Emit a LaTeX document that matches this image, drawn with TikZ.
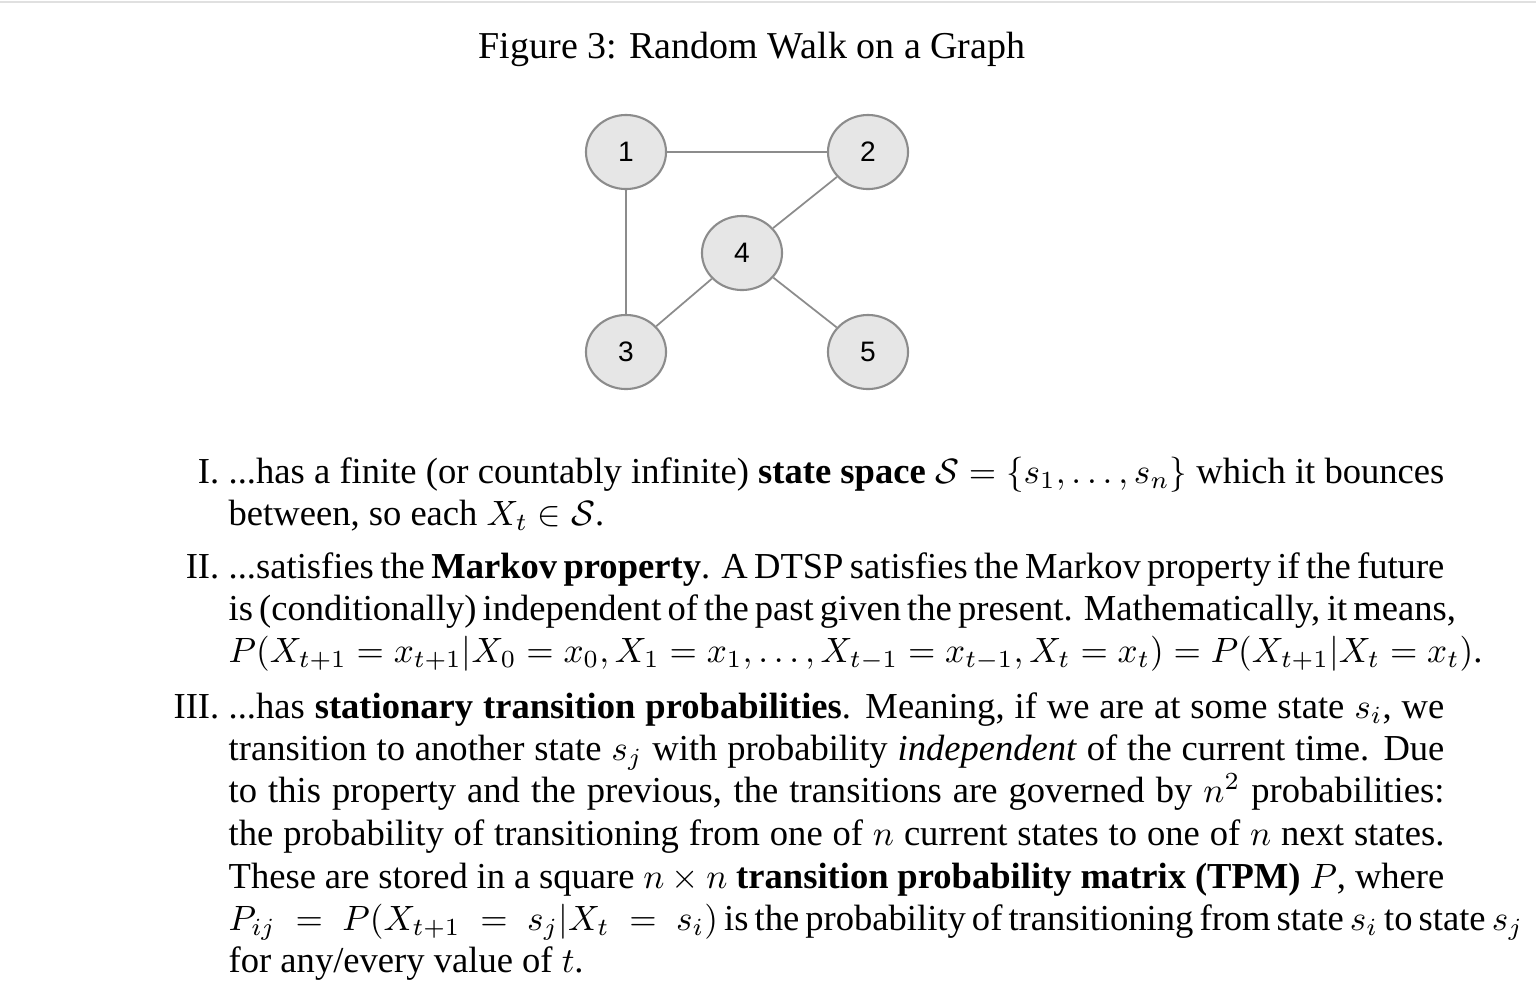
\documentclass[tikz,border=0pt]{standalone}
\usepackage{fontspec}
\usetikzlibrary{shapes.geometric}
\setmainfont{Liberation Serif}
\newfontfamily\gsans{Liberation Sans}
\definecolor{nfill}{HTML}{E6E6E6}
\definecolor{nline}{HTML}{8C8C8C}
\newlength\linew \setlength\linew{12.15cm}
\newcommand\jl[1]{\hbox to \linew{#1}}
\begin{document}
\begin{tikzpicture}[x=0.01cm,y=-0.01cm,
  gnode/.style={ellipse,draw=nline,fill=nfill,line width=0.6pt,minimum width=0.8cm,minimum height=0.74cm,inner sep=0pt,font=\gsans\fontsize{8}{9}\selectfont},
  gedge/.style={draw=nline,line width=0.5pt},
  txt/.style={anchor=base west,inner sep=0pt,font=\fontsize{10.4}{12}\selectfont},
  lbl/.style={anchor=base east,inner sep=0pt,font=\fontsize{10.4}{12}\selectfont}]
\useasboundingbox (0,0) rectangle (1536,1002);
\draw[black!12,line width=0.4pt] (0,2) -- (1536,2);
\node[anchor=base,inner sep=0pt,font=\fontsize{10.8}{13}\selectfont] (title) at (752,58) {Figure 3: Random Walk on a Graph};
\node[gnode] (n1) at (626,152) {1};
\node[gnode] (n2) at (868,152) {2};
\node[gnode] (n4) at (742,253) {4};
\node[gnode] (n3) at (626,352) {3};
\node[gnode] (n5) at (868,352) {5};
\draw[gedge] (n1) -- (n2);
\draw[gedge] (n1) -- (n3);
\draw[gedge] (n2) -- (n4);
\draw[gedge] (n3) -- (n4);
\draw[gedge] (n4) -- (n5);
\node[lbl] (l1) at (220,483) {I.};
\node[txt] (a1) at (228,483) {\jl{...has a finite (or countably infinite) \textbf{state space} $\mathcal{S}=\{s_1,\ldots,s_n\}$ which it bounces}};
\node[txt] (a2) at (228,525) {between, so each $X_t\in\mathcal{S}$.};
\node[lbl] (l2) at (220,578) {II.};
\node[txt] (b1) at (228,578) {\jl{...satisfies the \textbf{Markov property}. A DTSP satisfies the Markov property if the future}};
\node[txt] (b2) at (228,620) {\jl{is (conditionally) independent of the past given the present. Mathematically, it means,}};
\node[txt] (b3) at (228,662) {$P(X_{t+1}=x_{t+1}|X_0=x_0,X_1=x_1,\ldots,X_{t-1}=x_{t-1},X_t=x_t)=P(X_{t+1}|X_t=x_t)$.};
\node[lbl] (l3) at (220,718) {III.};
\node[txt] (c1) at (228,718) {\jl{...has \textbf{stationary transition probabilities}. Meaning, if we are at some state $s_i$, we}};
\node[txt] (c2) at (228,760) {\jl{transition to another state $s_j$ with probability \textit{independent} of the current time. Due}};
\node[txt] (c3) at (228,802) {\jl{to this property and the previous, the transitions are governed by $n^2$ probabilities:}};
\node[txt] (c4) at (228,845) {\jl{the probability of transitioning from one of $n$ current states to one of $n$ next states.}};
\node[txt] (c5) at (228,888) {\jl{These are stored in a square $n\times n$ \textbf{transition probability matrix (TPM)} $P$, where}};
\node[txt] (c6) at (228,930) {\jl{$P_{ij}\;=\;P(X_{t+1}\;=\;s_j|X_t\;=\;s_i)$ is the probability of transitioning from state $s_i$ to state $s_j$}};
\node[txt] (c7) at (228,972) {for any/every value of $t$.};
\end{tikzpicture}
\end{document}
